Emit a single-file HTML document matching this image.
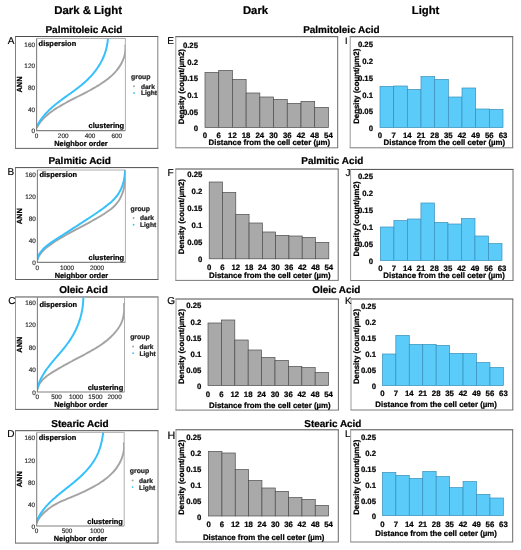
<!DOCTYPE html>
<html><head><meta charset="utf-8"><title>Figure</title>
<style>html,body{margin:0;padding:0;background:#fff;}svg{display:block;text-rendering:geometricPrecision;}</style></head>
<body><svg width="521" height="550" viewBox="0 0 521 550" font-family='"Liberation Sans", sans-serif'>
<text x="88.10" y="14.30" font-size="11.4" text-anchor="middle" font-weight="bold" fill="#000" stroke="#000" stroke-width="0.22" >Dark &amp; Light</text>
<text x="255.50" y="14.30" font-size="11.3" text-anchor="middle" font-weight="bold" fill="#000" stroke="#000" stroke-width="0.22" >Dark</text>
<text x="425.60" y="14.30" font-size="11.3" text-anchor="middle" font-weight="bold" fill="#000" stroke="#000" stroke-width="0.22" >Light</text>
<text x="83.90" y="33.00" font-size="10" text-anchor="middle" font-weight="bold" fill="#000" stroke="#000" stroke-width="0.22" >Palmitoleic Acid</text>
<rect x="15.50" y="36.50" width="142.30" height="111.90" fill="#fff"/>
<line x1="15.05" y1="36.50" x2="158.25" y2="36.50" stroke="#3a3a3a" stroke-width="0.9"/>
<line x1="15.05" y1="148.40" x2="158.25" y2="148.40" stroke="#505050" stroke-width="0.9"/>
<line x1="15.50" y1="36.50" x2="15.50" y2="148.40" stroke="#707070" stroke-width="0.9"/>
<line x1="157.80" y1="36.50" x2="157.80" y2="148.40" stroke="#707070" stroke-width="0.9"/>
<text x="7.70" y="43.70" font-size="10" text-anchor="start" font-weight="normal" fill="#000" stroke="#000" stroke-width="0.18" >A</text>
<clipPath id="cp0"><rect x="36.6" y="38.4" width="88.80000000000001" height="92.19999999999999"/></clipPath>
<path d="M36.66,127.92 C36.84,127.60 37.37,126.62 37.75,125.99 C38.12,125.37 38.52,124.75 38.92,124.16 C39.33,123.56 39.75,122.97 40.19,122.40 C40.62,121.83 41.07,121.27 41.53,120.72 C41.99,120.18 42.46,119.64 42.94,119.12 C43.43,118.60 43.92,118.08 44.43,117.58 C44.94,117.08 45.45,116.59 45.98,116.11 C46.51,115.63 47.04,115.16 47.59,114.70 C48.13,114.24 48.68,113.79 49.25,113.34 C49.81,112.90 50.38,112.47 50.95,112.04 C51.53,111.61 52.11,111.20 52.70,110.79 C53.28,110.37 53.88,109.97 54.48,109.57 C55.08,109.17 55.68,108.78 56.29,108.40 C56.90,108.01 57.51,107.63 58.12,107.26 C58.74,106.88 59.36,106.52 59.98,106.15 C60.60,105.78 61.22,105.42 61.84,105.07 C62.47,104.71 63.09,104.36 63.72,104.01 C64.34,103.66 64.97,103.31 65.60,102.97 C66.23,102.62 66.86,102.28 67.49,101.94 C68.12,101.60 68.76,101.27 69.39,100.93 C70.02,100.60 70.66,100.27 71.29,99.93 C71.93,99.60 72.57,99.27 73.20,98.95 C73.84,98.62 74.48,98.29 75.12,97.96 C75.75,97.64 76.39,97.31 77.03,96.98 C77.67,96.66 78.31,96.33 78.95,96.00 C79.59,95.68 80.23,95.35 80.87,95.02 C81.51,94.69 82.15,94.37 82.79,94.04 C83.43,93.71 84.07,93.38 84.71,93.04 C85.35,92.71 85.99,92.38 86.63,92.04 C87.27,91.70 87.91,91.36 88.55,91.02 C89.19,90.68 89.83,90.34 90.46,89.99 C91.10,89.64 91.74,89.29 92.37,88.94 C93.01,88.58 93.64,88.22 94.28,87.86 C94.91,87.50 95.54,87.14 96.17,86.77 C96.80,86.40 97.43,86.02 98.05,85.64 C98.67,85.26 99.29,84.88 99.91,84.49 C100.52,84.10 101.14,83.70 101.74,83.30 C102.35,82.90 102.95,82.50 103.55,82.08 C104.14,81.67 104.73,81.25 105.32,80.83 C105.90,80.40 106.48,79.97 107.05,79.53 C107.62,79.09 108.18,78.64 108.74,78.19 C109.29,77.73 109.84,77.27 110.38,76.80 C110.92,76.33 111.45,75.86 111.97,75.37 C112.49,74.88 113.00,74.39 113.50,73.89 C114.00,73.38 114.49,72.87 114.97,72.35 C115.45,71.83 115.92,71.30 116.38,70.75 C116.83,70.21 117.28,69.66 117.71,69.10 C118.14,68.54 118.56,67.97 118.97,67.39 C119.37,66.81 119.76,66.23 120.14,65.63 C120.51,65.03 120.87,64.42 121.21,63.80 C121.55,63.18 121.88,62.56 122.18,61.92 C122.49,61.28 122.77,60.63 123.04,59.98 C123.31,59.32 123.56,58.66 123.78,57.98 C124.01,57.31 124.22,56.62 124.40,55.93 C124.58,55.23 124.74,54.53 124.88,53.82 C125.02,53.10 125.13,52.38 125.22,51.65 C125.31,50.92 125.37,50.18 125.41,49.43 C125.45,48.68 125.46,47.92 125.44,47.15 C125.42,46.38 125.33,45.20 125.31,44.81" fill="none" stroke="#a3a3a3" stroke-width="1.9" stroke-linecap="butt" clip-path="url(#cp0)"/>
<path d="M36.66,126.95 C36.81,126.64 37.27,125.70 37.60,125.08 C37.92,124.47 38.26,123.87 38.60,123.28 C38.94,122.68 39.30,122.10 39.66,121.53 C40.03,120.95 40.40,120.39 40.79,119.83 C41.17,119.28 41.56,118.73 41.96,118.19 C42.36,117.65 42.77,117.12 43.19,116.60 C43.61,116.08 44.03,115.56 44.47,115.05 C44.90,114.54 45.34,114.04 45.79,113.55 C46.24,113.06 46.70,112.57 47.16,112.09 C47.62,111.61 48.09,111.13 48.57,110.66 C49.04,110.20 49.52,109.73 50.01,109.28 C50.50,108.82 50.99,108.37 51.49,107.92 C51.99,107.47 52.49,107.03 53.00,106.59 C53.51,106.15 54.02,105.72 54.54,105.29 C55.06,104.86 55.58,104.43 56.10,104.01 C56.63,103.59 57.16,103.17 57.69,102.76 C58.22,102.34 58.76,101.93 59.29,101.52 C59.83,101.11 60.37,100.70 60.92,100.29 C61.46,99.89 62.01,99.48 62.55,99.08 C63.10,98.68 63.65,98.28 64.20,97.88 C64.75,97.48 65.30,97.08 65.86,96.68 C66.41,96.28 66.96,95.89 67.52,95.49 C68.07,95.09 68.62,94.69 69.18,94.30 C69.73,93.90 70.29,93.50 70.84,93.10 C71.39,92.70 71.95,92.30 72.50,91.90 C73.05,91.50 73.60,91.10 74.15,90.69 C74.69,90.29 75.24,89.88 75.79,89.47 C76.33,89.07 76.87,88.66 77.41,88.24 C77.95,87.83 78.49,87.41 79.03,86.99 C79.56,86.57 80.09,86.15 80.62,85.72 C81.15,85.30 81.67,84.87 82.19,84.43 C82.71,84.00 83.22,83.56 83.74,83.12 C84.25,82.67 84.75,82.23 85.25,81.77 C85.76,81.32 86.25,80.86 86.74,80.40 C87.23,79.93 87.72,79.47 88.20,78.99 C88.68,78.52 89.15,78.04 89.62,77.55 C90.09,77.07 90.55,76.58 91.00,76.08 C91.46,75.58 91.91,75.08 92.35,74.57 C92.79,74.07 93.22,73.56 93.65,73.04 C94.08,72.52 94.50,72.00 94.91,71.47 C95.32,70.94 95.73,70.41 96.12,69.87 C96.52,69.33 96.91,68.78 97.29,68.23 C97.67,67.69 98.04,67.13 98.41,66.57 C98.77,66.01 99.13,65.44 99.47,64.87 C99.82,64.30 100.16,63.73 100.48,63.14 C100.81,62.56 101.13,61.98 101.44,61.38 C101.75,60.79 102.05,60.20 102.34,59.59 C102.63,58.99 102.91,58.38 103.18,57.77 C103.45,57.16 103.71,56.54 103.95,55.91 C104.20,55.29 104.44,54.66 104.67,54.03 C104.90,53.39 105.11,52.76 105.32,52.11 C105.52,51.47 105.72,50.82 105.90,50.17 C106.08,49.51 106.25,48.86 106.41,48.19 C106.57,47.53 106.72,46.87 106.86,46.20 C107.00,45.52 107.12,44.85 107.24,44.17 C107.35,43.49 107.45,42.81 107.54,42.12 C107.63,41.43 107.71,40.74 107.77,40.05 C107.84,39.35 107.89,38.65 107.93,37.95 C107.97,37.25 108.00,36.19 108.02,35.84" fill="none" stroke="#36c1fc" stroke-width="2.0" stroke-linecap="butt" clip-path="url(#cp0)"/>
<path d="M36.60,38.40 H125.40 V130.60" fill="none" stroke="#a6a6a6" stroke-width="0.9"/>
<path d="M36.60,38.40 V130.60 H125.40" fill="none" stroke="#828282" stroke-width="1.1"/>
<text x="35.00" y="46.69" font-size="6.4" text-anchor="end" font-weight="normal" fill="#2e2e2e" stroke="#2e2e2e" stroke-width="0.18" >160</text>
<text x="35.00" y="68.29" font-size="6.4" text-anchor="end" font-weight="normal" fill="#2e2e2e" stroke="#2e2e2e" stroke-width="0.18" >120</text>
<text x="35.00" y="89.89" font-size="6.4" text-anchor="end" font-weight="normal" fill="#2e2e2e" stroke="#2e2e2e" stroke-width="0.18" >80</text>
<text x="35.00" y="111.89" font-size="6.4" text-anchor="end" font-weight="normal" fill="#2e2e2e" stroke="#2e2e2e" stroke-width="0.18" >40</text>
<text x="35.00" y="133.29" font-size="6.4" text-anchor="end" font-weight="normal" fill="#2e2e2e" stroke="#2e2e2e" stroke-width="0.18" >0</text>
<text x="36.60" y="137.69" font-size="6.4" text-anchor="middle" font-weight="normal" fill="#2e2e2e" stroke="#2e2e2e" stroke-width="0.18" >0</text>
<text x="63.20" y="137.69" font-size="6.4" text-anchor="middle" font-weight="normal" fill="#2e2e2e" stroke="#2e2e2e" stroke-width="0.18" >200</text>
<text x="90.00" y="137.69" font-size="6.4" text-anchor="middle" font-weight="normal" fill="#2e2e2e" stroke="#2e2e2e" stroke-width="0.18" >400</text>
<text x="116.80" y="137.69" font-size="6.4" text-anchor="middle" font-weight="normal" fill="#2e2e2e" stroke="#2e2e2e" stroke-width="0.18" >600</text>
<text x="81.00" y="146.45" font-size="7.42" text-anchor="middle" font-weight="bold" fill="#000" stroke="#000" stroke-width="0.22" >Neighbor order</text>
<text x="22.00" y="84.50" font-size="7.42" text-anchor="middle" font-weight="bold" fill="#000" stroke="#000" stroke-width="0.22" transform="rotate(-90 22.0 84.5)">ANN</text>
<text x="38.60" y="46.40" font-size="7.45" text-anchor="start" font-weight="bold" fill="#000" stroke="#000" stroke-width="0.22" >dispersion</text>
<text x="124.10" y="128.40" font-size="7.45" text-anchor="end" font-weight="bold" fill="#000" stroke="#000" stroke-width="0.22" >clustering</text>
<text x="131.10" y="79.10" font-size="6.85" text-anchor="start" font-weight="bold" fill="#222" stroke="#222" stroke-width="0.22" >group</text>
<circle cx="134.0" cy="86.30" r="0.95" fill="#a3a3a3"/>
<circle cx="134.0" cy="93.00" r="0.9" fill="#36c1fc"/>
<clipPath id="lc0"><rect x="120" y="36.5" width="37.50" height="111.9"/></clipPath>
<text x="140.90" y="88.70" font-size="6.6" text-anchor="start" font-weight="bold" fill="#222" stroke="#222" stroke-width="0.22" clip-path="url(#lc0)">dark</text>
<text x="140.90" y="95.40" font-size="6.6" text-anchor="start" font-weight="bold" fill="#222" stroke="#222" stroke-width="0.22" clip-path="url(#lc0)">Light</text>
<text x="79.60" y="163.90" font-size="10" text-anchor="middle" font-weight="bold" fill="#000" stroke="#000" stroke-width="0.22" >Palmitic Acid</text>
<rect x="15.50" y="167.60" width="142.50" height="111.90" fill="#fff"/>
<line x1="15.05" y1="167.60" x2="158.45" y2="167.60" stroke="#3a3a3a" stroke-width="0.9"/>
<line x1="15.05" y1="279.50" x2="158.45" y2="279.50" stroke="#505050" stroke-width="0.9"/>
<line x1="15.50" y1="167.60" x2="15.50" y2="279.50" stroke="#707070" stroke-width="0.9"/>
<line x1="158.00" y1="167.60" x2="158.00" y2="279.50" stroke="#707070" stroke-width="0.9"/>
<text x="7.40" y="174.80" font-size="10" text-anchor="start" font-weight="normal" fill="#000" stroke="#000" stroke-width="0.18" >B</text>
<clipPath id="cp1"><rect x="37.4" y="170.0" width="88.0" height="92.39999999999998"/></clipPath>
<path d="M37.26,260.44 C37.37,260.09 37.65,259.03 37.91,258.37 C38.16,257.70 38.47,257.06 38.79,256.43 C39.12,255.81 39.49,255.21 39.88,254.63 C40.27,254.04 40.70,253.48 41.14,252.93 C41.58,252.38 42.05,251.85 42.53,251.33 C43.01,250.81 43.51,250.30 44.02,249.81 C44.53,249.31 45.06,248.83 45.60,248.36 C46.14,247.89 46.70,247.43 47.26,246.97 C47.82,246.52 48.40,246.08 48.98,245.65 C49.56,245.22 50.16,244.79 50.75,244.37 C51.34,243.95 51.95,243.54 52.55,243.14 C53.15,242.73 53.76,242.33 54.37,241.94 C54.97,241.54 55.58,241.15 56.20,240.76 C56.81,240.38 57.42,239.99 58.04,239.62 C58.65,239.24 59.27,238.86 59.88,238.49 C60.50,238.12 61.12,237.76 61.74,237.39 C62.36,237.03 62.99,236.67 63.61,236.31 C64.23,235.96 64.86,235.60 65.48,235.25 C66.11,234.90 66.73,234.55 67.36,234.21 C67.99,233.86 68.62,233.51 69.25,233.17 C69.87,232.83 70.50,232.49 71.13,232.15 C71.77,231.81 72.40,231.47 73.03,231.14 C73.66,230.80 74.29,230.46 74.92,230.13 C75.55,229.79 76.19,229.46 76.82,229.12 C77.45,228.79 78.08,228.46 78.72,228.12 C79.35,227.79 79.98,227.46 80.61,227.12 C81.24,226.79 81.88,226.45 82.51,226.12 C83.14,225.78 83.77,225.45 84.40,225.11 C85.03,224.77 85.66,224.44 86.29,224.10 C86.92,223.76 87.55,223.42 88.18,223.08 C88.81,222.74 89.44,222.39 90.07,222.05 C90.70,221.70 91.33,221.36 91.96,221.01 C92.58,220.66 93.21,220.31 93.84,219.95 C94.46,219.60 95.09,219.24 95.72,218.89 C96.34,218.53 96.97,218.17 97.59,217.80 C98.21,217.44 98.84,217.07 99.46,216.70 C100.08,216.33 100.70,215.96 101.32,215.58 C101.94,215.21 102.56,214.83 103.18,214.44 C103.80,214.06 104.41,213.67 105.03,213.27 C105.64,212.88 106.25,212.48 106.85,212.07 C107.45,211.66 108.04,211.25 108.63,210.83 C109.21,210.40 109.79,209.97 110.36,209.53 C110.93,209.09 111.49,208.64 112.03,208.18 C112.58,207.71 113.11,207.24 113.63,206.75 C114.15,206.27 114.65,205.77 115.14,205.25 C115.63,204.74 116.10,204.22 116.55,203.67 C117.00,203.13 117.44,202.57 117.85,202.00 C118.27,201.43 118.66,200.84 119.04,200.24 C119.42,199.64 119.77,199.02 120.11,198.39 C120.45,197.77 120.77,197.13 121.08,196.48 C121.38,195.83 121.66,195.17 121.93,194.50 C122.20,193.83 122.45,193.16 122.68,192.47 C122.91,191.79 123.13,191.10 123.33,190.40 C123.52,189.70 123.71,189.00 123.87,188.29 C124.04,187.59 124.19,186.88 124.32,186.17 C124.45,185.45 124.57,184.74 124.67,184.02 C124.78,183.31 124.86,182.59 124.93,181.87 C125.01,181.16 125.06,180.44 125.10,179.73 C125.15,179.02 125.17,177.96 125.19,177.60" fill="none" stroke="#a3a3a3" stroke-width="1.9" stroke-linecap="butt" clip-path="url(#cp1)"/>
<path d="M37.19,259.45 C37.29,259.08 37.57,257.95 37.81,257.24 C38.06,256.53 38.36,255.85 38.68,255.19 C39.01,254.52 39.37,253.89 39.77,253.28 C40.16,252.66 40.59,252.07 41.03,251.49 C41.48,250.92 41.96,250.37 42.46,249.83 C42.96,249.29 43.48,248.77 44.02,248.26 C44.55,247.75 45.11,247.25 45.67,246.77 C46.24,246.28 46.82,245.81 47.40,245.35 C47.99,244.88 48.59,244.43 49.19,243.98 C49.80,243.54 50.41,243.10 51.03,242.67 C51.65,242.23 52.28,241.81 52.91,241.39 C53.54,240.97 54.17,240.55 54.81,240.14 C55.44,239.72 56.08,239.31 56.72,238.90 C57.35,238.49 57.99,238.08 58.62,237.67 C59.26,237.26 59.89,236.86 60.52,236.45 C61.16,236.04 61.79,235.64 62.42,235.23 C63.06,234.82 63.69,234.42 64.32,234.01 C64.95,233.61 65.58,233.20 66.21,232.80 C66.84,232.39 67.47,231.99 68.10,231.59 C68.73,231.18 69.36,230.78 69.98,230.38 C70.61,229.97 71.24,229.57 71.87,229.17 C72.49,228.76 73.12,228.36 73.75,227.96 C74.38,227.56 75.00,227.15 75.63,226.75 C76.26,226.35 76.88,225.94 77.51,225.54 C78.13,225.14 78.76,224.73 79.39,224.33 C80.01,223.92 80.64,223.52 81.26,223.12 C81.89,222.71 82.51,222.31 83.14,221.90 C83.76,221.50 84.39,221.09 85.02,220.68 C85.64,220.28 86.27,219.87 86.89,219.46 C87.52,219.05 88.14,218.64 88.76,218.23 C89.39,217.82 90.01,217.41 90.64,217.00 C91.26,216.58 91.88,216.17 92.51,215.75 C93.13,215.33 93.75,214.91 94.37,214.49 C94.99,214.07 95.61,213.65 96.23,213.23 C96.85,212.80 97.47,212.37 98.09,211.95 C98.71,211.52 99.33,211.08 99.95,210.65 C100.56,210.21 101.18,209.78 101.80,209.34 C102.41,208.90 103.03,208.46 103.64,208.01 C104.25,207.56 104.86,207.11 105.47,206.66 C106.07,206.20 106.67,205.74 107.27,205.27 C107.86,204.80 108.45,204.33 109.03,203.85 C109.60,203.37 110.18,202.88 110.74,202.38 C111.30,201.88 111.85,201.38 112.38,200.86 C112.92,200.34 113.45,199.82 113.96,199.28 C114.47,198.74 114.97,198.20 115.45,197.63 C115.93,197.07 116.39,196.50 116.84,195.91 C117.29,195.33 117.72,194.73 118.13,194.11 C118.54,193.50 118.93,192.88 119.30,192.24 C119.67,191.60 120.03,190.95 120.37,190.29 C120.70,189.64 121.02,188.97 121.32,188.29 C121.62,187.61 121.90,186.92 122.16,186.22 C122.43,185.53 122.67,184.82 122.90,184.11 C123.12,183.39 123.33,182.67 123.52,181.95 C123.71,181.22 123.88,180.49 124.03,179.75 C124.18,179.02 124.31,178.27 124.43,177.53 C124.54,176.78 124.63,176.03 124.71,175.28 C124.79,174.52 124.85,173.77 124.89,173.01 C124.93,172.25 124.96,171.49 124.96,170.73 C124.97,169.97 124.94,168.83 124.94,168.46" fill="none" stroke="#36c1fc" stroke-width="2.0" stroke-linecap="butt" clip-path="url(#cp1)"/>
<path d="M37.40,170.00 H125.40 V262.40" fill="none" stroke="#a6a6a6" stroke-width="0.9"/>
<path d="M37.40,170.00 V262.40 H125.40" fill="none" stroke="#828282" stroke-width="1.1"/>
<text x="35.80" y="176.89" font-size="6.4" text-anchor="end" font-weight="normal" fill="#2e2e2e" stroke="#2e2e2e" stroke-width="0.18" >160</text>
<text x="35.80" y="199.29" font-size="6.4" text-anchor="end" font-weight="normal" fill="#2e2e2e" stroke="#2e2e2e" stroke-width="0.18" >120</text>
<text x="35.80" y="221.29" font-size="6.4" text-anchor="end" font-weight="normal" fill="#2e2e2e" stroke="#2e2e2e" stroke-width="0.18" >80</text>
<text x="35.80" y="243.29" font-size="6.4" text-anchor="end" font-weight="normal" fill="#2e2e2e" stroke="#2e2e2e" stroke-width="0.18" >40</text>
<text x="35.80" y="264.89" font-size="6.4" text-anchor="end" font-weight="normal" fill="#2e2e2e" stroke="#2e2e2e" stroke-width="0.18" >0</text>
<text x="37.40" y="269.69" font-size="6.4" text-anchor="middle" font-weight="normal" fill="#2e2e2e" stroke="#2e2e2e" stroke-width="0.18" >0</text>
<text x="67.00" y="269.69" font-size="6.4" text-anchor="middle" font-weight="normal" fill="#2e2e2e" stroke="#2e2e2e" stroke-width="0.18" >1000</text>
<text x="97.00" y="269.69" font-size="6.4" text-anchor="middle" font-weight="normal" fill="#2e2e2e" stroke="#2e2e2e" stroke-width="0.18" >2000</text>
<text x="81.40" y="278.05" font-size="7.42" text-anchor="middle" font-weight="bold" fill="#000" stroke="#000" stroke-width="0.22" >Neighbor order</text>
<text x="22.00" y="216.20" font-size="7.42" text-anchor="middle" font-weight="bold" fill="#000" stroke="#000" stroke-width="0.22" transform="rotate(-90 22.0 216.2)">ANN</text>
<text x="39.40" y="177.00" font-size="7.45" text-anchor="start" font-weight="bold" fill="#000" stroke="#000" stroke-width="0.22" >dispersion</text>
<text x="124.10" y="260.20" font-size="7.45" text-anchor="end" font-weight="bold" fill="#000" stroke="#000" stroke-width="0.22" >clustering</text>
<text x="130.60" y="210.80" font-size="6.85" text-anchor="start" font-weight="bold" fill="#222" stroke="#222" stroke-width="0.22" >group</text>
<circle cx="133.6" cy="218.00" r="0.95" fill="#a3a3a3"/>
<circle cx="133.6" cy="224.70" r="0.9" fill="#36c1fc"/>
<clipPath id="lc1"><rect x="120" y="167.6" width="37.70" height="111.9"/></clipPath>
<text x="140.00" y="220.40" font-size="6.6" text-anchor="start" font-weight="bold" fill="#222" stroke="#222" stroke-width="0.22" clip-path="url(#lc1)">dark</text>
<text x="140.00" y="227.10" font-size="6.6" text-anchor="start" font-weight="bold" fill="#222" stroke="#222" stroke-width="0.22" clip-path="url(#lc1)">Light</text>
<text x="83.50" y="292.60" font-size="10" text-anchor="middle" font-weight="bold" fill="#000" stroke="#000" stroke-width="0.22" >Oleic Acid</text>
<rect x="15.50" y="297.00" width="142.50" height="112.40" fill="#fff"/>
<line x1="15.05" y1="297.00" x2="158.45" y2="297.00" stroke="#9a9a9a" stroke-width="0.9"/>
<line x1="15.05" y1="409.40" x2="158.45" y2="409.40" stroke="#505050" stroke-width="0.9"/>
<line x1="15.50" y1="297.00" x2="15.50" y2="409.40" stroke="#8a8a8a" stroke-width="0.9"/>
<line x1="158.00" y1="297.00" x2="158.00" y2="409.40" stroke="#707070" stroke-width="0.9"/>
<line x1="15.05" y1="296.9" x2="158.45" y2="296.9" stroke="#a2a2a2" stroke-width="1.6"/>
<text x="8.20" y="303.90" font-size="10" text-anchor="start" font-weight="normal" fill="#000" stroke="#000" stroke-width="0.18" >C</text>
<clipPath id="cp2"><rect x="37.4" y="297.2" width="87.1" height="94.80000000000001"/></clipPath>
<path d="M37.28,389.79 C37.38,389.42 37.63,388.28 37.86,387.57 C38.09,386.86 38.37,386.17 38.67,385.51 C38.98,384.85 39.32,384.22 39.70,383.61 C40.07,382.99 40.47,382.41 40.91,381.84 C41.34,381.27 41.80,380.72 42.28,380.19 C42.76,379.66 43.27,379.15 43.80,378.65 C44.33,378.15 44.87,377.67 45.44,377.21 C46.00,376.74 46.58,376.29 47.17,375.85 C47.76,375.40 48.37,374.97 48.98,374.55 C49.59,374.13 50.22,373.72 50.84,373.32 C51.47,372.91 52.10,372.51 52.74,372.12 C53.37,371.72 54.00,371.34 54.64,370.95 C55.27,370.57 55.90,370.18 56.54,369.81 C57.17,369.43 57.81,369.05 58.44,368.68 C59.08,368.31 59.71,367.94 60.35,367.58 C60.98,367.21 61.62,366.85 62.26,366.49 C62.89,366.13 63.53,365.77 64.17,365.42 C64.81,365.06 65.44,364.71 66.08,364.36 C66.72,364.01 67.36,363.66 68.00,363.31 C68.64,362.96 69.28,362.61 69.92,362.27 C70.57,361.92 71.21,361.58 71.85,361.23 C72.49,360.89 73.14,360.55 73.78,360.20 C74.43,359.86 75.07,359.52 75.72,359.18 C76.37,358.84 77.01,358.49 77.66,358.15 C78.31,357.81 78.96,357.47 79.61,357.12 C80.26,356.78 80.91,356.44 81.57,356.09 C82.22,355.75 82.87,355.40 83.52,355.06 C84.18,354.71 84.83,354.36 85.48,354.01 C86.13,353.66 86.79,353.31 87.44,352.95 C88.09,352.59 88.74,352.24 89.39,351.88 C90.03,351.52 90.68,351.15 91.32,350.78 C91.97,350.42 92.61,350.05 93.25,349.67 C93.89,349.30 94.52,348.92 95.16,348.53 C95.79,348.15 96.42,347.76 97.05,347.37 C97.67,346.98 98.29,346.58 98.91,346.17 C99.53,345.77 100.14,345.36 100.75,344.95 C101.36,344.53 101.96,344.11 102.56,343.69 C103.16,343.26 103.75,342.82 104.33,342.38 C104.92,341.94 105.50,341.50 106.07,341.04 C106.65,340.58 107.21,340.12 107.77,339.65 C108.33,339.18 108.88,338.70 109.43,338.22 C109.97,337.73 110.51,337.23 111.04,336.73 C111.56,336.23 112.08,335.71 112.59,335.19 C113.10,334.67 113.61,334.14 114.10,333.59 C114.59,333.05 115.07,332.50 115.54,331.94 C116.01,331.38 116.47,330.81 116.91,330.23 C117.35,329.64 117.78,329.05 118.19,328.45 C118.60,327.85 119.00,327.24 119.37,326.62 C119.75,325.99 120.11,325.36 120.44,324.72 C120.78,324.08 121.09,323.42 121.38,322.76 C121.68,322.10 121.95,321.42 122.19,320.74 C122.43,320.05 122.65,319.35 122.85,318.65 C123.04,317.95 123.21,317.23 123.36,316.51 C123.51,315.79 123.64,315.06 123.75,314.33 C123.85,313.60 123.94,312.86 124.00,312.12 C124.07,311.37 124.11,310.63 124.14,309.88 C124.17,309.13 124.18,308.38 124.17,307.63 C124.16,306.88 124.14,306.13 124.10,305.38 C124.06,304.63 123.96,303.50 123.93,303.13" fill="none" stroke="#a3a3a3" stroke-width="1.9" stroke-linecap="butt" clip-path="url(#cp2)"/>
<path d="M37.15,388.95 C37.23,388.65 37.45,387.76 37.62,387.17 C37.79,386.59 37.96,386.01 38.15,385.43 C38.34,384.86 38.54,384.29 38.74,383.73 C38.95,383.17 39.17,382.61 39.40,382.06 C39.62,381.51 39.86,380.96 40.11,380.42 C40.35,379.88 40.61,379.35 40.87,378.82 C41.13,378.28 41.40,377.76 41.68,377.24 C41.96,376.71 42.24,376.20 42.54,375.68 C42.83,375.17 43.13,374.66 43.44,374.15 C43.74,373.65 44.06,373.15 44.38,372.65 C44.70,372.15 45.03,371.65 45.36,371.16 C45.69,370.67 46.03,370.18 46.37,369.70 C46.71,369.21 47.06,368.73 47.41,368.25 C47.77,367.77 48.12,367.29 48.49,366.81 C48.85,366.34 49.21,365.86 49.58,365.39 C49.95,364.92 50.32,364.45 50.70,363.98 C51.08,363.52 51.46,363.05 51.84,362.58 C52.22,362.12 52.60,361.66 52.99,361.19 C53.37,360.73 53.76,360.27 54.15,359.81 C54.54,359.35 54.93,358.89 55.33,358.43 C55.72,357.97 56.11,357.51 56.51,357.05 C56.90,356.59 57.29,356.14 57.69,355.68 C58.08,355.22 58.48,354.76 58.87,354.30 C59.26,353.84 59.66,353.38 60.05,352.92 C60.44,352.46 60.83,352.00 61.22,351.54 C61.61,351.07 62.00,350.61 62.39,350.14 C62.77,349.68 63.16,349.21 63.54,348.75 C63.92,348.28 64.30,347.81 64.67,347.34 C65.05,346.86 65.42,346.39 65.79,345.92 C66.16,345.44 66.52,344.96 66.88,344.48 C67.24,344.00 67.60,343.52 67.95,343.03 C68.30,342.54 68.65,342.06 68.99,341.56 C69.34,341.07 69.67,340.58 70.00,340.08 C70.33,339.58 70.66,339.08 70.98,338.57 C71.30,338.07 71.61,337.56 71.92,337.05 C72.23,336.53 72.53,336.02 72.83,335.50 C73.13,334.98 73.42,334.46 73.71,333.94 C73.99,333.41 74.27,332.89 74.55,332.36 C74.82,331.83 75.09,331.29 75.35,330.76 C75.61,330.22 75.87,329.68 76.12,329.14 C76.37,328.60 76.61,328.06 76.85,327.51 C77.09,326.96 77.32,326.41 77.54,325.86 C77.77,325.31 77.99,324.75 78.20,324.20 C78.41,323.64 78.62,323.08 78.82,322.52 C79.02,321.96 79.22,321.39 79.40,320.83 C79.59,320.26 79.77,319.69 79.95,319.12 C80.12,318.55 80.29,317.98 80.45,317.40 C80.62,316.83 80.77,316.25 80.92,315.67 C81.07,315.09 81.21,314.51 81.35,313.93 C81.48,313.34 81.61,312.76 81.73,312.17 C81.86,311.58 81.97,310.99 82.08,310.40 C82.19,309.81 82.29,309.22 82.39,308.62 C82.48,308.03 82.57,307.43 82.65,306.84 C82.73,306.24 82.81,305.64 82.87,305.04 C82.94,304.44 83.00,303.84 83.06,303.23 C83.11,302.63 83.15,302.02 83.19,301.42 C83.23,300.81 83.26,300.20 83.29,299.59 C83.31,298.99 83.33,298.38 83.34,297.76 C83.35,297.15 83.35,296.23 83.35,295.93" fill="none" stroke="#36c1fc" stroke-width="2.0" stroke-linecap="butt" clip-path="url(#cp2)"/>
<path d="M37.40,297.20 H124.50 V392.00" fill="none" stroke="#a6a6a6" stroke-width="0.9"/>
<path d="M37.40,297.20 V392.00 H124.50" fill="none" stroke="#828282" stroke-width="1.1"/>
<text x="35.80" y="304.99" font-size="6.4" text-anchor="end" font-weight="normal" fill="#2e2e2e" stroke="#2e2e2e" stroke-width="0.18" >160</text>
<text x="35.80" y="327.49" font-size="6.4" text-anchor="end" font-weight="normal" fill="#2e2e2e" stroke="#2e2e2e" stroke-width="0.18" >120</text>
<text x="35.80" y="349.69" font-size="6.4" text-anchor="end" font-weight="normal" fill="#2e2e2e" stroke="#2e2e2e" stroke-width="0.18" >80</text>
<text x="35.80" y="371.89" font-size="6.4" text-anchor="end" font-weight="normal" fill="#2e2e2e" stroke="#2e2e2e" stroke-width="0.18" >40</text>
<text x="35.80" y="394.79" font-size="6.4" text-anchor="end" font-weight="normal" fill="#2e2e2e" stroke="#2e2e2e" stroke-width="0.18" >0</text>
<text x="37.40" y="399.29" font-size="6.4" text-anchor="middle" font-weight="normal" fill="#2e2e2e" stroke="#2e2e2e" stroke-width="0.18" >0</text>
<text x="56.60" y="399.29" font-size="6.4" text-anchor="middle" font-weight="normal" fill="#2e2e2e" stroke="#2e2e2e" stroke-width="0.18" >500</text>
<text x="76.00" y="399.29" font-size="6.4" text-anchor="middle" font-weight="normal" fill="#2e2e2e" stroke="#2e2e2e" stroke-width="0.18" >1000</text>
<text x="95.40" y="399.29" font-size="6.4" text-anchor="middle" font-weight="normal" fill="#2e2e2e" stroke="#2e2e2e" stroke-width="0.18" >1500</text>
<text x="114.60" y="399.29" font-size="6.4" text-anchor="middle" font-weight="normal" fill="#2e2e2e" stroke="#2e2e2e" stroke-width="0.18" >2000</text>
<text x="80.95" y="406.95" font-size="7.42" text-anchor="middle" font-weight="bold" fill="#000" stroke="#000" stroke-width="0.22" >Neighbor order</text>
<text x="22.00" y="344.60" font-size="7.42" text-anchor="middle" font-weight="bold" fill="#000" stroke="#000" stroke-width="0.22" transform="rotate(-90 22.0 344.6)">ANN</text>
<text x="39.40" y="306.90" font-size="7.45" text-anchor="start" font-weight="bold" fill="#000" stroke="#000" stroke-width="0.22" >dispersion</text>
<text x="123.20" y="389.80" font-size="7.45" text-anchor="end" font-weight="bold" fill="#000" stroke="#000" stroke-width="0.22" >clustering</text>
<text x="130.20" y="339.30" font-size="6.85" text-anchor="start" font-weight="bold" fill="#222" stroke="#222" stroke-width="0.22" >group</text>
<circle cx="133.1" cy="346.50" r="0.95" fill="#a3a3a3"/>
<circle cx="133.1" cy="353.20" r="0.9" fill="#36c1fc"/>
<clipPath id="lc2"><rect x="120" y="297.0" width="37.70" height="112.39999999999998"/></clipPath>
<text x="139.50" y="348.90" font-size="6.6" text-anchor="start" font-weight="bold" fill="#222" stroke="#222" stroke-width="0.22" clip-path="url(#lc2)">dark</text>
<text x="139.50" y="355.60" font-size="6.6" text-anchor="start" font-weight="bold" fill="#222" stroke="#222" stroke-width="0.22" clip-path="url(#lc2)">Light</text>
<text x="80.00" y="426.70" font-size="10" text-anchor="middle" font-weight="bold" fill="#000" stroke="#000" stroke-width="0.22" >Stearic Acid</text>
<rect x="15.50" y="430.70" width="142.50" height="112.40" fill="#fff"/>
<line x1="15.05" y1="430.70" x2="158.45" y2="430.70" stroke="#3a3a3a" stroke-width="0.9"/>
<line x1="15.05" y1="543.10" x2="158.45" y2="543.10" stroke="#505050" stroke-width="0.9"/>
<line x1="15.50" y1="430.70" x2="15.50" y2="543.10" stroke="#707070" stroke-width="0.9"/>
<line x1="158.00" y1="430.70" x2="158.00" y2="543.10" stroke="#707070" stroke-width="0.9"/>
<text x="7.30" y="436.80" font-size="10" text-anchor="start" font-weight="normal" fill="#000" stroke="#000" stroke-width="0.18" >D</text>
<clipPath id="cp3"><rect x="36.7" y="432.4" width="87.5" height="93.60000000000002"/></clipPath>
<path d="M36.65,523.41 C36.77,523.08 37.11,522.08 37.39,521.45 C37.67,520.81 37.99,520.19 38.34,519.59 C38.69,518.98 39.07,518.40 39.47,517.82 C39.88,517.25 40.31,516.69 40.76,516.14 C41.21,515.59 41.68,515.06 42.17,514.53 C42.66,514.01 43.17,513.50 43.69,513.00 C44.21,512.50 44.74,512.02 45.28,511.54 C45.82,511.06 46.37,510.59 46.92,510.14 C47.48,509.68 48.04,509.24 48.61,508.80 C49.18,508.36 49.76,507.94 50.34,507.52 C50.93,507.11 51.52,506.71 52.12,506.31 C52.72,505.92 53.32,505.54 53.94,505.17 C54.55,504.80 55.16,504.44 55.79,504.09 C56.41,503.74 57.04,503.40 57.68,503.08 C58.31,502.75 58.96,502.44 59.60,502.13 C60.25,501.82 60.90,501.52 61.55,501.23 C62.20,500.94 62.86,500.66 63.52,500.38 C64.17,500.10 64.83,499.82 65.49,499.55 C66.15,499.28 66.82,499.01 67.48,498.74 C68.14,498.47 68.80,498.20 69.46,497.93 C70.12,497.66 70.78,497.39 71.43,497.12 C72.09,496.84 72.74,496.57 73.40,496.29 C74.05,496.02 74.70,495.74 75.35,495.46 C76.01,495.18 76.66,494.90 77.30,494.61 C77.95,494.33 78.60,494.04 79.25,493.75 C79.90,493.46 80.54,493.17 81.19,492.87 C81.84,492.58 82.48,492.28 83.13,491.98 C83.77,491.68 84.42,491.37 85.06,491.07 C85.71,490.76 86.35,490.45 86.99,490.13 C87.64,489.81 88.28,489.49 88.92,489.17 C89.56,488.85 90.21,488.52 90.84,488.19 C91.48,487.85 92.12,487.52 92.75,487.17 C93.39,486.83 94.02,486.48 94.65,486.13 C95.28,485.78 95.90,485.42 96.52,485.05 C97.14,484.69 97.76,484.32 98.37,483.94 C98.99,483.56 99.59,483.18 100.20,482.79 C100.80,482.40 101.40,482.00 101.99,481.59 C102.58,481.19 103.16,480.78 103.74,480.36 C104.32,479.94 104.89,479.51 105.46,479.08 C106.02,478.64 106.58,478.20 107.13,477.74 C107.68,477.29 108.22,476.83 108.75,476.36 C109.28,475.89 109.81,475.41 110.32,474.92 C110.84,474.44 111.34,473.94 111.84,473.43 C112.33,472.92 112.82,472.41 113.29,471.88 C113.77,471.35 114.23,470.81 114.68,470.27 C115.14,469.72 115.58,469.16 116.01,468.59 C116.44,468.02 116.85,467.44 117.26,466.85 C117.66,466.25 118.05,465.65 118.42,465.04 C118.80,464.43 119.16,463.81 119.50,463.19 C119.85,462.56 120.17,461.92 120.49,461.28 C120.80,460.63 121.09,459.98 121.36,459.32 C121.64,458.66 121.90,458.00 122.13,457.32 C122.37,456.65 122.59,455.97 122.78,455.29 C122.98,454.60 123.16,453.91 123.31,453.21 C123.46,452.52 123.59,451.81 123.70,451.11 C123.81,450.40 123.89,449.69 123.95,448.98 C124.01,448.26 124.05,447.55 124.05,446.82 C124.06,446.10 124.05,445.38 124.00,444.65 C123.96,443.93 123.82,442.83 123.79,442.47" fill="none" stroke="#a3a3a3" stroke-width="1.9" stroke-linecap="butt" clip-path="url(#cp3)"/>
<path d="M36.66,521.97 C36.78,521.66 37.12,520.71 37.37,520.09 C37.62,519.47 37.89,518.86 38.16,518.26 C38.44,517.66 38.74,517.07 39.04,516.49 C39.35,515.91 39.67,515.33 40.00,514.76 C40.33,514.20 40.67,513.64 41.03,513.09 C41.38,512.54 41.75,511.99 42.12,511.46 C42.50,510.92 42.88,510.39 43.28,509.87 C43.67,509.35 44.08,508.83 44.49,508.33 C44.91,507.82 45.33,507.31 45.76,506.82 C46.19,506.32 46.63,505.83 47.07,505.35 C47.52,504.86 47.97,504.38 48.43,503.91 C48.88,503.43 49.35,502.97 49.82,502.50 C50.29,502.04 50.76,501.58 51.24,501.12 C51.72,500.67 52.20,500.22 52.69,499.77 C53.18,499.33 53.67,498.89 54.16,498.45 C54.65,498.01 55.15,497.57 55.65,497.14 C56.15,496.71 56.65,496.28 57.15,495.86 C57.65,495.43 58.16,495.01 58.67,494.59 C59.18,494.16 59.69,493.75 60.20,493.33 C60.71,492.91 61.22,492.50 61.74,492.08 C62.25,491.67 62.76,491.25 63.28,490.84 C63.80,490.43 64.31,490.02 64.83,489.61 C65.35,489.20 65.86,488.79 66.38,488.38 C66.90,487.97 67.42,487.55 67.93,487.14 C68.45,486.73 68.97,486.32 69.48,485.91 C70.00,485.49 70.52,485.08 71.03,484.66 C71.54,484.25 72.06,483.83 72.57,483.41 C73.08,482.99 73.59,482.57 74.10,482.15 C74.61,481.72 75.12,481.30 75.62,480.87 C76.13,480.44 76.63,480.01 77.13,479.57 C77.63,479.14 78.13,478.70 78.62,478.26 C79.12,477.82 79.61,477.37 80.10,476.92 C80.58,476.47 81.07,476.02 81.55,475.56 C82.03,475.11 82.50,474.65 82.98,474.18 C83.45,473.72 83.91,473.25 84.37,472.78 C84.83,472.31 85.29,471.83 85.74,471.35 C86.19,470.87 86.64,470.38 87.07,469.89 C87.51,469.40 87.94,468.91 88.37,468.41 C88.79,467.91 89.21,467.40 89.62,466.89 C90.04,466.38 90.44,465.87 90.84,465.35 C91.23,464.83 91.62,464.30 92.00,463.77 C92.38,463.24 92.75,462.71 93.12,462.16 C93.48,461.62 93.83,461.08 94.18,460.52 C94.52,459.97 94.86,459.41 95.18,458.84 C95.51,458.28 95.83,457.71 96.13,457.13 C96.44,456.55 96.73,455.97 97.02,455.38 C97.30,454.79 97.57,454.19 97.84,453.59 C98.10,452.99 98.35,452.38 98.59,451.76 C98.84,451.15 99.07,450.53 99.29,449.91 C99.52,449.28 99.73,448.66 99.93,448.03 C100.14,447.39 100.33,446.76 100.51,446.12 C100.70,445.48 100.87,444.84 101.04,444.19 C101.21,443.55 101.37,442.90 101.52,442.25 C101.67,441.60 101.81,440.95 101.94,440.30 C102.07,439.65 102.20,438.99 102.32,438.34 C102.43,437.68 102.54,437.02 102.64,436.37 C102.75,435.71 102.84,435.05 102.93,434.40 C103.01,433.74 103.09,433.09 103.17,432.43 C103.24,431.78 103.33,430.80 103.37,430.47" fill="none" stroke="#36c1fc" stroke-width="2.0" stroke-linecap="butt" clip-path="url(#cp3)"/>
<path d="M36.70,432.40 H124.20 V526.00" fill="none" stroke="#a6a6a6" stroke-width="0.9"/>
<path d="M36.70,432.40 V526.00 H124.20" fill="none" stroke="#828282" stroke-width="1.1"/>
<text x="35.10" y="440.29" font-size="6.4" text-anchor="end" font-weight="normal" fill="#2e2e2e" stroke="#2e2e2e" stroke-width="0.18" >160</text>
<text x="35.10" y="462.89" font-size="6.4" text-anchor="end" font-weight="normal" fill="#2e2e2e" stroke="#2e2e2e" stroke-width="0.18" >120</text>
<text x="35.10" y="484.89" font-size="6.4" text-anchor="end" font-weight="normal" fill="#2e2e2e" stroke="#2e2e2e" stroke-width="0.18" >80</text>
<text x="35.10" y="506.89" font-size="6.4" text-anchor="end" font-weight="normal" fill="#2e2e2e" stroke="#2e2e2e" stroke-width="0.18" >40</text>
<text x="35.10" y="528.89" font-size="6.4" text-anchor="end" font-weight="normal" fill="#2e2e2e" stroke="#2e2e2e" stroke-width="0.18" >0</text>
<text x="36.60" y="533.29" font-size="6.4" text-anchor="middle" font-weight="normal" fill="#2e2e2e" stroke="#2e2e2e" stroke-width="0.18" >0</text>
<text x="67.00" y="533.29" font-size="6.4" text-anchor="middle" font-weight="normal" fill="#2e2e2e" stroke="#2e2e2e" stroke-width="0.18" >500</text>
<text x="97.00" y="533.29" font-size="6.4" text-anchor="middle" font-weight="normal" fill="#2e2e2e" stroke="#2e2e2e" stroke-width="0.18" >1000</text>
<text x="80.45" y="540.55" font-size="7.42" text-anchor="middle" font-weight="bold" fill="#000" stroke="#000" stroke-width="0.22" >Neighbor order</text>
<text x="22.00" y="479.20" font-size="7.42" text-anchor="middle" font-weight="bold" fill="#000" stroke="#000" stroke-width="0.22" transform="rotate(-90 22.0 479.2)">ANN</text>
<text x="38.70" y="440.00" font-size="7.45" text-anchor="start" font-weight="bold" fill="#000" stroke="#000" stroke-width="0.22" >dispersion</text>
<text x="122.90" y="523.80" font-size="7.45" text-anchor="end" font-weight="bold" fill="#000" stroke="#000" stroke-width="0.22" >clustering</text>
<text x="129.80" y="473.20" font-size="6.85" text-anchor="start" font-weight="bold" fill="#222" stroke="#222" stroke-width="0.22" >group</text>
<circle cx="132.6" cy="480.40" r="0.95" fill="#a3a3a3"/>
<circle cx="132.6" cy="487.10" r="0.9" fill="#36c1fc"/>
<clipPath id="lc3"><rect x="120" y="430.7" width="37.70" height="112.40000000000003"/></clipPath>
<text x="139.00" y="482.80" font-size="6.6" text-anchor="start" font-weight="bold" fill="#222" stroke="#222" stroke-width="0.22" clip-path="url(#lc3)">dark</text>
<text x="139.00" y="489.50" font-size="6.6" text-anchor="start" font-weight="bold" fill="#222" stroke="#222" stroke-width="0.22" clip-path="url(#lc3)">Light</text>
<rect x="175.80" y="36.70" width="161.90" height="111.10" fill="#fff"/>
<line x1="175.30" y1="36.70" x2="338.20" y2="36.70" stroke="#4a4a4a" stroke-width="1.0"/>
<line x1="175.30" y1="147.80" x2="338.20" y2="147.80" stroke="#7a7a7a" stroke-width="1.0"/>
<line x1="175.80" y1="36.70" x2="175.80" y2="147.80" stroke="#9a9a9a" stroke-width="1.0"/>
<line x1="337.70" y1="36.70" x2="337.70" y2="147.80" stroke="#6a6a6a" stroke-width="1.0"/>
<text x="167.30" y="43.70" font-size="10" text-anchor="start" font-weight="normal" fill="#000" stroke="#000" stroke-width="0.18" >E</text>
<rect x="205.00" y="72.40" width="13.71" height="55.20" fill="#a9a9a9" stroke="#4d4d4d" stroke-width="0.7" />
<rect x="218.71" y="70.40" width="13.71" height="57.20" fill="#a9a9a9" stroke="#4d4d4d" stroke-width="0.7" />
<rect x="232.42" y="79.40" width="13.71" height="48.20" fill="#a9a9a9" stroke="#4d4d4d" stroke-width="0.7" />
<rect x="246.13" y="93.00" width="13.71" height="34.60" fill="#a9a9a9" stroke="#4d4d4d" stroke-width="0.7" />
<rect x="259.84" y="97.00" width="13.71" height="30.60" fill="#a9a9a9" stroke="#4d4d4d" stroke-width="0.7" />
<rect x="273.56" y="99.40" width="13.71" height="28.20" fill="#a9a9a9" stroke="#4d4d4d" stroke-width="0.7" />
<rect x="287.27" y="103.40" width="13.71" height="24.20" fill="#a9a9a9" stroke="#4d4d4d" stroke-width="0.7" />
<rect x="300.98" y="101.40" width="13.71" height="26.20" fill="#a9a9a9" stroke="#4d4d4d" stroke-width="0.7" />
<rect x="314.69" y="107.40" width="13.71" height="20.20" fill="#a9a9a9" stroke="#4d4d4d" stroke-width="0.7" />
<text x="198.00" y="48.19" font-size="7.75" text-anchor="end" font-weight="bold" fill="#000" stroke="#000" stroke-width="0.22" >0.25</text>
<text x="198.00" y="64.79" font-size="7.75" text-anchor="end" font-weight="bold" fill="#000" stroke="#000" stroke-width="0.22" >0.2</text>
<text x="198.00" y="81.39" font-size="7.75" text-anchor="end" font-weight="bold" fill="#000" stroke="#000" stroke-width="0.22" >0.15</text>
<text x="198.00" y="98.19" font-size="7.75" text-anchor="end" font-weight="bold" fill="#000" stroke="#000" stroke-width="0.22" >0.1</text>
<text x="198.00" y="114.79" font-size="7.75" text-anchor="end" font-weight="bold" fill="#000" stroke="#000" stroke-width="0.22" >0.05</text>
<text x="198.00" y="131.19" font-size="7.75" text-anchor="end" font-weight="bold" fill="#000" stroke="#000" stroke-width="0.22" >0</text>
<text x="205.00" y="137.99" font-size="7.8" text-anchor="middle" font-weight="bold" fill="#000" stroke="#000" stroke-width="0.22" >0</text>
<text x="218.71" y="137.99" font-size="7.8" text-anchor="middle" font-weight="bold" fill="#000" stroke="#000" stroke-width="0.22" >6</text>
<text x="232.42" y="137.99" font-size="7.8" text-anchor="middle" font-weight="bold" fill="#000" stroke="#000" stroke-width="0.22" >12</text>
<text x="246.13" y="137.99" font-size="7.8" text-anchor="middle" font-weight="bold" fill="#000" stroke="#000" stroke-width="0.22" >18</text>
<text x="259.84" y="137.99" font-size="7.8" text-anchor="middle" font-weight="bold" fill="#000" stroke="#000" stroke-width="0.22" >24</text>
<text x="273.56" y="137.99" font-size="7.8" text-anchor="middle" font-weight="bold" fill="#000" stroke="#000" stroke-width="0.22" >30</text>
<text x="287.27" y="137.99" font-size="7.8" text-anchor="middle" font-weight="bold" fill="#000" stroke="#000" stroke-width="0.22" >36</text>
<text x="300.98" y="137.99" font-size="7.8" text-anchor="middle" font-weight="bold" fill="#000" stroke="#000" stroke-width="0.22" >42</text>
<text x="314.69" y="137.99" font-size="7.8" text-anchor="middle" font-weight="bold" fill="#000" stroke="#000" stroke-width="0.22" >48</text>
<text x="328.40" y="137.99" font-size="7.8" text-anchor="middle" font-weight="bold" fill="#000" stroke="#000" stroke-width="0.22" >54</text>
<text x="269.40" y="145.43" font-size="7.87" text-anchor="middle" font-weight="bold" fill="#000" stroke="#000" stroke-width="0.22" >Distance from the cell ceter (µm)</text>
<text x="182.00" y="86.70" font-size="7.85" text-anchor="middle" font-weight="bold" fill="#000" stroke="#000" stroke-width="0.22" transform="rotate(-90 182.0 86.7)" dy="2.0">Density (count/µm2)</text>
<rect x="350.20" y="36.70" width="162.50" height="111.10" fill="#fff"/>
<line x1="349.70" y1="36.70" x2="513.20" y2="36.70" stroke="#4a4a4a" stroke-width="1.0"/>
<line x1="349.70" y1="147.80" x2="513.20" y2="147.80" stroke="#7a7a7a" stroke-width="1.0"/>
<line x1="350.20" y1="36.70" x2="350.20" y2="147.80" stroke="#9a9a9a" stroke-width="1.0"/>
<line x1="512.70" y1="36.70" x2="512.70" y2="147.80" stroke="#6a6a6a" stroke-width="1.0"/>
<text x="345.00" y="43.50" font-size="9.2" text-anchor="start" font-weight="normal" fill="#000" stroke="#000" stroke-width="0.18" >I</text>
<rect x="380.00" y="86.40" width="13.67" height="41.20" fill="#5bccfa" stroke="#3a8fb8" stroke-width="0.7" />
<rect x="393.67" y="86.00" width="13.67" height="41.60" fill="#5bccfa" stroke="#3a8fb8" stroke-width="0.7" />
<rect x="407.33" y="89.40" width="13.67" height="38.20" fill="#5bccfa" stroke="#3a8fb8" stroke-width="0.7" />
<rect x="421.00" y="76.60" width="13.67" height="51.00" fill="#5bccfa" stroke="#3a8fb8" stroke-width="0.7" />
<rect x="434.67" y="79.40" width="13.67" height="48.20" fill="#5bccfa" stroke="#3a8fb8" stroke-width="0.7" />
<rect x="448.33" y="97.00" width="13.67" height="30.60" fill="#5bccfa" stroke="#3a8fb8" stroke-width="0.7" />
<rect x="462.00" y="88.00" width="13.67" height="39.60" fill="#5bccfa" stroke="#3a8fb8" stroke-width="0.7" />
<rect x="475.67" y="109.00" width="13.67" height="18.60" fill="#5bccfa" stroke="#3a8fb8" stroke-width="0.7" />
<rect x="489.33" y="109.40" width="13.67" height="18.20" fill="#5bccfa" stroke="#3a8fb8" stroke-width="0.7" />
<text x="373.00" y="47.39" font-size="7.75" text-anchor="end" font-weight="bold" fill="#000" stroke="#000" stroke-width="0.22" >0.25</text>
<text x="373.00" y="64.19" font-size="7.75" text-anchor="end" font-weight="bold" fill="#000" stroke="#000" stroke-width="0.22" >0.2</text>
<text x="373.00" y="80.99" font-size="7.75" text-anchor="end" font-weight="bold" fill="#000" stroke="#000" stroke-width="0.22" >0.15</text>
<text x="373.00" y="97.79" font-size="7.75" text-anchor="end" font-weight="bold" fill="#000" stroke="#000" stroke-width="0.22" >0.1</text>
<text x="373.00" y="114.39" font-size="7.75" text-anchor="end" font-weight="bold" fill="#000" stroke="#000" stroke-width="0.22" >0.05</text>
<text x="373.00" y="131.19" font-size="7.75" text-anchor="end" font-weight="bold" fill="#000" stroke="#000" stroke-width="0.22" >0</text>
<text x="380.00" y="137.99" font-size="7.8" text-anchor="middle" font-weight="bold" fill="#000" stroke="#000" stroke-width="0.22" >0</text>
<text x="393.67" y="137.99" font-size="7.8" text-anchor="middle" font-weight="bold" fill="#000" stroke="#000" stroke-width="0.22" >7</text>
<text x="407.33" y="137.99" font-size="7.8" text-anchor="middle" font-weight="bold" fill="#000" stroke="#000" stroke-width="0.22" >14</text>
<text x="421.00" y="137.99" font-size="7.8" text-anchor="middle" font-weight="bold" fill="#000" stroke="#000" stroke-width="0.22" >21</text>
<text x="434.67" y="137.99" font-size="7.8" text-anchor="middle" font-weight="bold" fill="#000" stroke="#000" stroke-width="0.22" >28</text>
<text x="448.33" y="137.99" font-size="7.8" text-anchor="middle" font-weight="bold" fill="#000" stroke="#000" stroke-width="0.22" >35</text>
<text x="462.00" y="137.99" font-size="7.8" text-anchor="middle" font-weight="bold" fill="#000" stroke="#000" stroke-width="0.22" >42</text>
<text x="475.67" y="137.99" font-size="7.8" text-anchor="middle" font-weight="bold" fill="#000" stroke="#000" stroke-width="0.22" >49</text>
<text x="489.33" y="137.99" font-size="7.8" text-anchor="middle" font-weight="bold" fill="#000" stroke="#000" stroke-width="0.22" >56</text>
<text x="503.00" y="137.99" font-size="7.8" text-anchor="middle" font-weight="bold" fill="#000" stroke="#000" stroke-width="0.22" >63</text>
<text x="444.40" y="145.43" font-size="7.87" text-anchor="middle" font-weight="bold" fill="#000" stroke="#000" stroke-width="0.22" >Distance from the cell ceter (µm)</text>
<text x="357.00" y="86.30" font-size="7.85" text-anchor="middle" font-weight="bold" fill="#000" stroke="#000" stroke-width="0.22" transform="rotate(-90 357.0 86.3)" dy="2.0">Density (count/µm2)</text>
<rect x="175.80" y="169.00" width="162.40" height="111.40" fill="#fff"/>
<line x1="175.30" y1="169.00" x2="338.70" y2="169.00" stroke="#4a4a4a" stroke-width="1.0"/>
<line x1="175.30" y1="280.40" x2="338.70" y2="280.40" stroke="#7a7a7a" stroke-width="1.0"/>
<line x1="175.80" y1="169.00" x2="175.80" y2="280.40" stroke="#9a9a9a" stroke-width="1.0"/>
<line x1="338.20" y1="169.00" x2="338.20" y2="280.40" stroke="#6a6a6a" stroke-width="1.0"/>
<text x="167.40" y="175.60" font-size="10" text-anchor="start" font-weight="normal" fill="#000" stroke="#000" stroke-width="0.18" >F</text>
<rect x="209.20" y="182.00" width="13.29" height="76.80" fill="#a9a9a9" stroke="#4d4d4d" stroke-width="0.7" />
<rect x="222.49" y="192.40" width="13.29" height="66.40" fill="#a9a9a9" stroke="#4d4d4d" stroke-width="0.7" />
<rect x="235.78" y="214.40" width="13.29" height="44.40" fill="#a9a9a9" stroke="#4d4d4d" stroke-width="0.7" />
<rect x="249.07" y="223.00" width="13.29" height="35.80" fill="#a9a9a9" stroke="#4d4d4d" stroke-width="0.7" />
<rect x="262.36" y="232.00" width="13.29" height="26.80" fill="#a9a9a9" stroke="#4d4d4d" stroke-width="0.7" />
<rect x="275.64" y="235.40" width="13.29" height="23.40" fill="#a9a9a9" stroke="#4d4d4d" stroke-width="0.7" />
<rect x="288.93" y="236.00" width="13.29" height="22.80" fill="#a9a9a9" stroke="#4d4d4d" stroke-width="0.7" />
<rect x="302.22" y="237.40" width="13.29" height="21.40" fill="#a9a9a9" stroke="#4d4d4d" stroke-width="0.7" />
<rect x="315.51" y="242.40" width="13.29" height="16.40" fill="#a9a9a9" stroke="#4d4d4d" stroke-width="0.7" />
<text x="202.40" y="176.79" font-size="7.75" text-anchor="end" font-weight="bold" fill="#000" stroke="#000" stroke-width="0.22" >0.25</text>
<text x="202.40" y="193.79" font-size="7.75" text-anchor="end" font-weight="bold" fill="#000" stroke="#000" stroke-width="0.22" >0.2</text>
<text x="202.40" y="211.19" font-size="7.75" text-anchor="end" font-weight="bold" fill="#000" stroke="#000" stroke-width="0.22" >0.15</text>
<text x="202.40" y="228.39" font-size="7.75" text-anchor="end" font-weight="bold" fill="#000" stroke="#000" stroke-width="0.22" >0.1</text>
<text x="202.40" y="245.39" font-size="7.75" text-anchor="end" font-weight="bold" fill="#000" stroke="#000" stroke-width="0.22" >0.05</text>
<text x="202.40" y="262.39" font-size="7.75" text-anchor="end" font-weight="bold" fill="#000" stroke="#000" stroke-width="0.22" >0</text>
<text x="209.20" y="270.09" font-size="7.8" text-anchor="middle" font-weight="bold" fill="#000" stroke="#000" stroke-width="0.22" >0</text>
<text x="222.49" y="270.09" font-size="7.8" text-anchor="middle" font-weight="bold" fill="#000" stroke="#000" stroke-width="0.22" >6</text>
<text x="235.78" y="270.09" font-size="7.8" text-anchor="middle" font-weight="bold" fill="#000" stroke="#000" stroke-width="0.22" >12</text>
<text x="249.07" y="270.09" font-size="7.8" text-anchor="middle" font-weight="bold" fill="#000" stroke="#000" stroke-width="0.22" >18</text>
<text x="262.36" y="270.09" font-size="7.8" text-anchor="middle" font-weight="bold" fill="#000" stroke="#000" stroke-width="0.22" >24</text>
<text x="275.64" y="270.09" font-size="7.8" text-anchor="middle" font-weight="bold" fill="#000" stroke="#000" stroke-width="0.22" >30</text>
<text x="288.93" y="270.09" font-size="7.8" text-anchor="middle" font-weight="bold" fill="#000" stroke="#000" stroke-width="0.22" >36</text>
<text x="302.22" y="270.09" font-size="7.8" text-anchor="middle" font-weight="bold" fill="#000" stroke="#000" stroke-width="0.22" >42</text>
<text x="315.51" y="270.09" font-size="7.8" text-anchor="middle" font-weight="bold" fill="#000" stroke="#000" stroke-width="0.22" >48</text>
<text x="328.80" y="270.09" font-size="7.8" text-anchor="middle" font-weight="bold" fill="#000" stroke="#000" stroke-width="0.22" >54</text>
<text x="269.90" y="278.13" font-size="7.87" text-anchor="middle" font-weight="bold" fill="#000" stroke="#000" stroke-width="0.22" >Distance from the cell ceter (µm)</text>
<text x="182.00" y="216.70" font-size="7.85" text-anchor="middle" font-weight="bold" fill="#000" stroke="#000" stroke-width="0.22" transform="rotate(-90 182.0 216.7)" dy="2.0">Density (count/µm2)</text>
<rect x="350.60" y="169.40" width="162.40" height="111.10" fill="#fff"/>
<line x1="350.10" y1="169.40" x2="513.50" y2="169.40" stroke="#4a4a4a" stroke-width="1.0"/>
<line x1="350.10" y1="280.50" x2="513.50" y2="280.50" stroke="#7a7a7a" stroke-width="1.0"/>
<line x1="350.60" y1="169.40" x2="350.60" y2="280.50" stroke="#9a9a9a" stroke-width="1.0"/>
<line x1="513.00" y1="169.40" x2="513.00" y2="280.50" stroke="#6a6a6a" stroke-width="1.0"/>
<text x="345.40" y="176.00" font-size="10" text-anchor="start" font-weight="normal" fill="#000" stroke="#000" stroke-width="0.18" >J</text>
<rect x="380.40" y="227.00" width="13.51" height="33.60" fill="#5bccfa" stroke="#3a8fb8" stroke-width="0.7" />
<rect x="393.91" y="220.60" width="13.51" height="40.00" fill="#5bccfa" stroke="#3a8fb8" stroke-width="0.7" />
<rect x="407.42" y="219.00" width="13.51" height="41.60" fill="#5bccfa" stroke="#3a8fb8" stroke-width="0.7" />
<rect x="420.93" y="203.00" width="13.51" height="57.60" fill="#5bccfa" stroke="#3a8fb8" stroke-width="0.7" />
<rect x="434.44" y="222.40" width="13.51" height="38.20" fill="#5bccfa" stroke="#3a8fb8" stroke-width="0.7" />
<rect x="447.96" y="224.00" width="13.51" height="36.60" fill="#5bccfa" stroke="#3a8fb8" stroke-width="0.7" />
<rect x="461.47" y="218.60" width="13.51" height="42.00" fill="#5bccfa" stroke="#3a8fb8" stroke-width="0.7" />
<rect x="474.98" y="236.00" width="13.51" height="24.60" fill="#5bccfa" stroke="#3a8fb8" stroke-width="0.7" />
<rect x="488.49" y="243.60" width="13.51" height="17.00" fill="#5bccfa" stroke="#3a8fb8" stroke-width="0.7" />
<text x="373.00" y="178.79" font-size="7.75" text-anchor="end" font-weight="bold" fill="#000" stroke="#000" stroke-width="0.22" >0.25</text>
<text x="373.00" y="195.79" font-size="7.75" text-anchor="end" font-weight="bold" fill="#000" stroke="#000" stroke-width="0.22" >0.2</text>
<text x="373.00" y="212.79" font-size="7.75" text-anchor="end" font-weight="bold" fill="#000" stroke="#000" stroke-width="0.22" >0.15</text>
<text x="373.00" y="229.79" font-size="7.75" text-anchor="end" font-weight="bold" fill="#000" stroke="#000" stroke-width="0.22" >0.1</text>
<text x="373.00" y="246.79" font-size="7.75" text-anchor="end" font-weight="bold" fill="#000" stroke="#000" stroke-width="0.22" >0.05</text>
<text x="373.00" y="263.79" font-size="7.75" text-anchor="end" font-weight="bold" fill="#000" stroke="#000" stroke-width="0.22" >0</text>
<text x="380.40" y="271.49" font-size="7.8" text-anchor="middle" font-weight="bold" fill="#000" stroke="#000" stroke-width="0.22" >0</text>
<text x="393.91" y="271.49" font-size="7.8" text-anchor="middle" font-weight="bold" fill="#000" stroke="#000" stroke-width="0.22" >7</text>
<text x="407.42" y="271.49" font-size="7.8" text-anchor="middle" font-weight="bold" fill="#000" stroke="#000" stroke-width="0.22" >14</text>
<text x="420.93" y="271.49" font-size="7.8" text-anchor="middle" font-weight="bold" fill="#000" stroke="#000" stroke-width="0.22" >21</text>
<text x="434.44" y="271.49" font-size="7.8" text-anchor="middle" font-weight="bold" fill="#000" stroke="#000" stroke-width="0.22" >28</text>
<text x="447.96" y="271.49" font-size="7.8" text-anchor="middle" font-weight="bold" fill="#000" stroke="#000" stroke-width="0.22" >35</text>
<text x="461.47" y="271.49" font-size="7.8" text-anchor="middle" font-weight="bold" fill="#000" stroke="#000" stroke-width="0.22" >42</text>
<text x="474.98" y="271.49" font-size="7.8" text-anchor="middle" font-weight="bold" fill="#000" stroke="#000" stroke-width="0.22" >49</text>
<text x="488.49" y="271.49" font-size="7.8" text-anchor="middle" font-weight="bold" fill="#000" stroke="#000" stroke-width="0.22" >56</text>
<text x="502.00" y="271.49" font-size="7.8" text-anchor="middle" font-weight="bold" fill="#000" stroke="#000" stroke-width="0.22" >63</text>
<text x="444.10" y="278.23" font-size="7.87" text-anchor="middle" font-weight="bold" fill="#000" stroke="#000" stroke-width="0.22" >Distance from the cell ceter (µm)</text>
<text x="357.00" y="219.00" font-size="7.85" text-anchor="middle" font-weight="bold" fill="#000" stroke="#000" stroke-width="0.22" transform="rotate(-90 357.0 219.0)" dy="2.0">Density (count/µm2)</text>
<rect x="176.00" y="299.00" width="162.40" height="111.10" fill="#fff"/>
<line x1="175.50" y1="299.00" x2="338.90" y2="299.00" stroke="#4a4a4a" stroke-width="1.0"/>
<line x1="175.50" y1="410.10" x2="338.90" y2="410.10" stroke="#7a7a7a" stroke-width="1.0"/>
<line x1="176.00" y1="299.00" x2="176.00" y2="410.10" stroke="#9a9a9a" stroke-width="1.0"/>
<line x1="338.40" y1="299.00" x2="338.40" y2="410.10" stroke="#6a6a6a" stroke-width="1.0"/>
<text x="167.30" y="304.00" font-size="10" text-anchor="start" font-weight="normal" fill="#000" stroke="#000" stroke-width="0.18" >G</text>
<rect x="208.00" y="323.00" width="13.40" height="62.60" fill="#a9a9a9" stroke="#4d4d4d" stroke-width="0.7" />
<rect x="221.40" y="320.00" width="13.40" height="65.60" fill="#a9a9a9" stroke="#4d4d4d" stroke-width="0.7" />
<rect x="234.80" y="340.00" width="13.40" height="45.60" fill="#a9a9a9" stroke="#4d4d4d" stroke-width="0.7" />
<rect x="248.20" y="350.00" width="13.40" height="35.60" fill="#a9a9a9" stroke="#4d4d4d" stroke-width="0.7" />
<rect x="261.60" y="357.40" width="13.40" height="28.20" fill="#a9a9a9" stroke="#4d4d4d" stroke-width="0.7" />
<rect x="275.00" y="360.40" width="13.40" height="25.20" fill="#a9a9a9" stroke="#4d4d4d" stroke-width="0.7" />
<rect x="288.40" y="366.40" width="13.40" height="19.20" fill="#a9a9a9" stroke="#4d4d4d" stroke-width="0.7" />
<rect x="301.80" y="367.60" width="13.40" height="18.00" fill="#a9a9a9" stroke="#4d4d4d" stroke-width="0.7" />
<rect x="315.20" y="372.40" width="13.40" height="13.20" fill="#a9a9a9" stroke="#4d4d4d" stroke-width="0.7" />
<text x="201.40" y="308.19" font-size="7.75" text-anchor="end" font-weight="bold" fill="#000" stroke="#000" stroke-width="0.22" >0.25</text>
<text x="201.40" y="324.79" font-size="7.75" text-anchor="end" font-weight="bold" fill="#000" stroke="#000" stroke-width="0.22" >0.2</text>
<text x="201.40" y="341.19" font-size="7.75" text-anchor="end" font-weight="bold" fill="#000" stroke="#000" stroke-width="0.22" >0.15</text>
<text x="201.40" y="357.19" font-size="7.75" text-anchor="end" font-weight="bold" fill="#000" stroke="#000" stroke-width="0.22" >0.1</text>
<text x="201.40" y="373.39" font-size="7.75" text-anchor="end" font-weight="bold" fill="#000" stroke="#000" stroke-width="0.22" >0.05</text>
<text x="201.40" y="389.39" font-size="7.75" text-anchor="end" font-weight="bold" fill="#000" stroke="#000" stroke-width="0.22" >0</text>
<text x="208.00" y="396.59" font-size="7.8" text-anchor="middle" font-weight="bold" fill="#000" stroke="#000" stroke-width="0.22" >0</text>
<text x="221.40" y="396.59" font-size="7.8" text-anchor="middle" font-weight="bold" fill="#000" stroke="#000" stroke-width="0.22" >6</text>
<text x="234.80" y="396.59" font-size="7.8" text-anchor="middle" font-weight="bold" fill="#000" stroke="#000" stroke-width="0.22" >12</text>
<text x="248.20" y="396.59" font-size="7.8" text-anchor="middle" font-weight="bold" fill="#000" stroke="#000" stroke-width="0.22" >18</text>
<text x="261.60" y="396.59" font-size="7.8" text-anchor="middle" font-weight="bold" fill="#000" stroke="#000" stroke-width="0.22" >24</text>
<text x="275.00" y="396.59" font-size="7.8" text-anchor="middle" font-weight="bold" fill="#000" stroke="#000" stroke-width="0.22" >30</text>
<text x="288.40" y="396.59" font-size="7.8" text-anchor="middle" font-weight="bold" fill="#000" stroke="#000" stroke-width="0.22" >36</text>
<text x="301.80" y="396.59" font-size="7.8" text-anchor="middle" font-weight="bold" fill="#000" stroke="#000" stroke-width="0.22" >42</text>
<text x="315.20" y="396.59" font-size="7.8" text-anchor="middle" font-weight="bold" fill="#000" stroke="#000" stroke-width="0.22" >48</text>
<text x="328.60" y="396.59" font-size="7.8" text-anchor="middle" font-weight="bold" fill="#000" stroke="#000" stroke-width="0.22" >54</text>
<text x="269.90" y="408.13" font-size="7.87" text-anchor="middle" font-weight="bold" fill="#000" stroke="#000" stroke-width="0.22" >Distance from the cell ceter (µm)</text>
<text x="182.40" y="346.50" font-size="7.85" text-anchor="middle" font-weight="bold" fill="#000" stroke="#000" stroke-width="0.22" transform="rotate(-90 182.4 346.5)" dy="2.0">Density (count/µm2)</text>
<rect x="351.00" y="299.00" width="161.80" height="111.00" fill="#fff"/>
<line x1="350.50" y1="299.00" x2="513.30" y2="299.00" stroke="#4a4a4a" stroke-width="1.0"/>
<line x1="350.50" y1="410.00" x2="513.30" y2="410.00" stroke="#7a7a7a" stroke-width="1.0"/>
<line x1="351.00" y1="299.00" x2="351.00" y2="410.00" stroke="#9a9a9a" stroke-width="1.0"/>
<line x1="512.80" y1="299.00" x2="512.80" y2="410.00" stroke="#6a6a6a" stroke-width="1.0"/>
<text x="345.00" y="304.00" font-size="9.6" text-anchor="start" font-weight="normal" fill="#000" stroke="#000" stroke-width="0.18" >K</text>
<rect x="382.40" y="354.00" width="13.44" height="31.60" fill="#5bccfa" stroke="#3a8fb8" stroke-width="0.7" />
<rect x="395.84" y="335.40" width="13.44" height="50.20" fill="#5bccfa" stroke="#3a8fb8" stroke-width="0.7" />
<rect x="409.29" y="344.40" width="13.44" height="41.20" fill="#5bccfa" stroke="#3a8fb8" stroke-width="0.7" />
<rect x="422.73" y="344.40" width="13.44" height="41.20" fill="#5bccfa" stroke="#3a8fb8" stroke-width="0.7" />
<rect x="436.18" y="345.40" width="13.44" height="40.20" fill="#5bccfa" stroke="#3a8fb8" stroke-width="0.7" />
<rect x="449.62" y="353.40" width="13.44" height="32.20" fill="#5bccfa" stroke="#3a8fb8" stroke-width="0.7" />
<rect x="463.07" y="353.60" width="13.44" height="32.00" fill="#5bccfa" stroke="#3a8fb8" stroke-width="0.7" />
<rect x="476.51" y="362.60" width="13.44" height="23.00" fill="#5bccfa" stroke="#3a8fb8" stroke-width="0.7" />
<rect x="489.96" y="367.40" width="13.44" height="18.20" fill="#5bccfa" stroke="#3a8fb8" stroke-width="0.7" />
<text x="376.00" y="309.39" font-size="7.75" text-anchor="end" font-weight="bold" fill="#000" stroke="#000" stroke-width="0.22" >0.25</text>
<text x="376.00" y="325.39" font-size="7.75" text-anchor="end" font-weight="bold" fill="#000" stroke="#000" stroke-width="0.22" >0.2</text>
<text x="376.00" y="341.39" font-size="7.75" text-anchor="end" font-weight="bold" fill="#000" stroke="#000" stroke-width="0.22" >0.15</text>
<text x="376.00" y="357.39" font-size="7.75" text-anchor="end" font-weight="bold" fill="#000" stroke="#000" stroke-width="0.22" >0.1</text>
<text x="376.00" y="373.39" font-size="7.75" text-anchor="end" font-weight="bold" fill="#000" stroke="#000" stroke-width="0.22" >0.05</text>
<text x="376.00" y="388.79" font-size="7.75" text-anchor="end" font-weight="bold" fill="#000" stroke="#000" stroke-width="0.22" >0</text>
<text x="382.40" y="396.49" font-size="7.8" text-anchor="middle" font-weight="bold" fill="#000" stroke="#000" stroke-width="0.22" >0</text>
<text x="395.84" y="396.49" font-size="7.8" text-anchor="middle" font-weight="bold" fill="#000" stroke="#000" stroke-width="0.22" >7</text>
<text x="409.29" y="396.49" font-size="7.8" text-anchor="middle" font-weight="bold" fill="#000" stroke="#000" stroke-width="0.22" >14</text>
<text x="422.73" y="396.49" font-size="7.8" text-anchor="middle" font-weight="bold" fill="#000" stroke="#000" stroke-width="0.22" >21</text>
<text x="436.18" y="396.49" font-size="7.8" text-anchor="middle" font-weight="bold" fill="#000" stroke="#000" stroke-width="0.22" >28</text>
<text x="449.62" y="396.49" font-size="7.8" text-anchor="middle" font-weight="bold" fill="#000" stroke="#000" stroke-width="0.22" >35</text>
<text x="463.07" y="396.49" font-size="7.8" text-anchor="middle" font-weight="bold" fill="#000" stroke="#000" stroke-width="0.22" >42</text>
<text x="476.51" y="396.49" font-size="7.8" text-anchor="middle" font-weight="bold" fill="#000" stroke="#000" stroke-width="0.22" >49</text>
<text x="489.96" y="396.49" font-size="7.8" text-anchor="middle" font-weight="bold" fill="#000" stroke="#000" stroke-width="0.22" >56</text>
<text x="503.40" y="396.49" font-size="7.8" text-anchor="middle" font-weight="bold" fill="#000" stroke="#000" stroke-width="0.22" >63</text>
<text x="436.10" y="407.43" font-size="7.87" text-anchor="middle" font-weight="bold" fill="#000" stroke="#000" stroke-width="0.22" >Distance from the cell ceter (µm)</text>
<text x="357.00" y="346.50" font-size="7.85" text-anchor="middle" font-weight="bold" fill="#000" stroke="#000" stroke-width="0.22" transform="rotate(-90 357.0 346.5)" dy="2.0">Density (count/µm2)</text>
<rect x="176.00" y="429.80" width="162.30" height="112.20" fill="#fff"/>
<line x1="175.50" y1="429.80" x2="338.80" y2="429.80" stroke="#4a4a4a" stroke-width="1.0"/>
<line x1="175.50" y1="542.00" x2="338.80" y2="542.00" stroke="#7a7a7a" stroke-width="1.0"/>
<line x1="176.00" y1="429.80" x2="176.00" y2="542.00" stroke="#9a9a9a" stroke-width="1.0"/>
<line x1="338.30" y1="429.80" x2="338.30" y2="542.00" stroke="#6a6a6a" stroke-width="1.0"/>
<text x="167.40" y="438.60" font-size="10.7" text-anchor="start" font-weight="normal" fill="#000" stroke="#000" stroke-width="0.18" >H</text>
<rect x="208.60" y="451.40" width="13.33" height="64.60" fill="#a9a9a9" stroke="#4d4d4d" stroke-width="0.7" />
<rect x="221.93" y="453.00" width="13.33" height="63.00" fill="#a9a9a9" stroke="#4d4d4d" stroke-width="0.7" />
<rect x="235.27" y="469.60" width="13.33" height="46.40" fill="#a9a9a9" stroke="#4d4d4d" stroke-width="0.7" />
<rect x="248.60" y="480.40" width="13.33" height="35.60" fill="#a9a9a9" stroke="#4d4d4d" stroke-width="0.7" />
<rect x="261.93" y="488.00" width="13.33" height="28.00" fill="#a9a9a9" stroke="#4d4d4d" stroke-width="0.7" />
<rect x="275.27" y="491.40" width="13.33" height="24.60" fill="#a9a9a9" stroke="#4d4d4d" stroke-width="0.7" />
<rect x="288.60" y="497.60" width="13.33" height="18.40" fill="#a9a9a9" stroke="#4d4d4d" stroke-width="0.7" />
<rect x="301.93" y="499.40" width="13.33" height="16.60" fill="#a9a9a9" stroke="#4d4d4d" stroke-width="0.7" />
<rect x="315.27" y="505.40" width="13.33" height="10.60" fill="#a9a9a9" stroke="#4d4d4d" stroke-width="0.7" />
<text x="201.40" y="439.79" font-size="7.75" text-anchor="end" font-weight="bold" fill="#000" stroke="#000" stroke-width="0.22" >0.25</text>
<text x="201.40" y="456.19" font-size="7.75" text-anchor="end" font-weight="bold" fill="#000" stroke="#000" stroke-width="0.22" >0.2</text>
<text x="201.40" y="472.19" font-size="7.75" text-anchor="end" font-weight="bold" fill="#000" stroke="#000" stroke-width="0.22" >0.15</text>
<text x="201.40" y="488.19" font-size="7.75" text-anchor="end" font-weight="bold" fill="#000" stroke="#000" stroke-width="0.22" >0.1</text>
<text x="201.40" y="504.19" font-size="7.75" text-anchor="end" font-weight="bold" fill="#000" stroke="#000" stroke-width="0.22" >0.05</text>
<text x="201.40" y="519.79" font-size="7.75" text-anchor="end" font-weight="bold" fill="#000" stroke="#000" stroke-width="0.22" >0</text>
<text x="208.60" y="527.09" font-size="7.8" text-anchor="middle" font-weight="bold" fill="#000" stroke="#000" stroke-width="0.22" >0</text>
<text x="221.93" y="527.09" font-size="7.8" text-anchor="middle" font-weight="bold" fill="#000" stroke="#000" stroke-width="0.22" >6</text>
<text x="235.27" y="527.09" font-size="7.8" text-anchor="middle" font-weight="bold" fill="#000" stroke="#000" stroke-width="0.22" >12</text>
<text x="248.60" y="527.09" font-size="7.8" text-anchor="middle" font-weight="bold" fill="#000" stroke="#000" stroke-width="0.22" >18</text>
<text x="261.93" y="527.09" font-size="7.8" text-anchor="middle" font-weight="bold" fill="#000" stroke="#000" stroke-width="0.22" >24</text>
<text x="275.27" y="527.09" font-size="7.8" text-anchor="middle" font-weight="bold" fill="#000" stroke="#000" stroke-width="0.22" >30</text>
<text x="288.60" y="527.09" font-size="7.8" text-anchor="middle" font-weight="bold" fill="#000" stroke="#000" stroke-width="0.22" >36</text>
<text x="301.93" y="527.09" font-size="7.8" text-anchor="middle" font-weight="bold" fill="#000" stroke="#000" stroke-width="0.22" >42</text>
<text x="315.27" y="527.09" font-size="7.8" text-anchor="middle" font-weight="bold" fill="#000" stroke="#000" stroke-width="0.22" >48</text>
<text x="328.60" y="527.09" font-size="7.8" text-anchor="middle" font-weight="bold" fill="#000" stroke="#000" stroke-width="0.22" >54</text>
<text x="263.70" y="539.83" font-size="7.87" text-anchor="middle" font-weight="bold" fill="#000" stroke="#000" stroke-width="0.22" >Distance from the cell ceter (µm)</text>
<text x="182.00" y="477.30" font-size="7.85" text-anchor="middle" font-weight="bold" fill="#000" stroke="#000" stroke-width="0.22" transform="rotate(-90 182.0 477.3)" dy="2.0">Density (count/µm2)</text>
<rect x="350.70" y="429.80" width="162.00" height="112.20" fill="#fff"/>
<line x1="350.20" y1="429.80" x2="513.20" y2="429.80" stroke="#4a4a4a" stroke-width="1.0"/>
<line x1="350.20" y1="542.00" x2="513.20" y2="542.00" stroke="#7a7a7a" stroke-width="1.0"/>
<line x1="350.70" y1="429.80" x2="350.70" y2="542.00" stroke="#9a9a9a" stroke-width="1.0"/>
<line x1="512.70" y1="429.80" x2="512.70" y2="542.00" stroke="#6a6a6a" stroke-width="1.0"/>
<text x="344.90" y="436.80" font-size="9.6" text-anchor="start" font-weight="normal" fill="#000" stroke="#000" stroke-width="0.18" >L</text>
<rect x="382.40" y="472.40" width="13.44" height="43.20" fill="#5bccfa" stroke="#3a8fb8" stroke-width="0.7" />
<rect x="395.84" y="475.40" width="13.44" height="40.20" fill="#5bccfa" stroke="#3a8fb8" stroke-width="0.7" />
<rect x="409.29" y="478.40" width="13.44" height="37.20" fill="#5bccfa" stroke="#3a8fb8" stroke-width="0.7" />
<rect x="422.73" y="471.40" width="13.44" height="44.20" fill="#5bccfa" stroke="#3a8fb8" stroke-width="0.7" />
<rect x="436.18" y="476.60" width="13.44" height="39.00" fill="#5bccfa" stroke="#3a8fb8" stroke-width="0.7" />
<rect x="449.62" y="487.60" width="13.44" height="28.00" fill="#5bccfa" stroke="#3a8fb8" stroke-width="0.7" />
<rect x="463.07" y="481.60" width="13.44" height="34.00" fill="#5bccfa" stroke="#3a8fb8" stroke-width="0.7" />
<rect x="476.51" y="494.40" width="13.44" height="21.20" fill="#5bccfa" stroke="#3a8fb8" stroke-width="0.7" />
<rect x="489.96" y="498.00" width="13.44" height="17.60" fill="#5bccfa" stroke="#3a8fb8" stroke-width="0.7" />
<text x="376.00" y="439.79" font-size="7.75" text-anchor="end" font-weight="bold" fill="#000" stroke="#000" stroke-width="0.22" >0.25</text>
<text x="376.00" y="456.19" font-size="7.75" text-anchor="end" font-weight="bold" fill="#000" stroke="#000" stroke-width="0.22" >0.2</text>
<text x="376.00" y="472.19" font-size="7.75" text-anchor="end" font-weight="bold" fill="#000" stroke="#000" stroke-width="0.22" >0.15</text>
<text x="376.00" y="488.19" font-size="7.75" text-anchor="end" font-weight="bold" fill="#000" stroke="#000" stroke-width="0.22" >0.1</text>
<text x="376.00" y="504.19" font-size="7.75" text-anchor="end" font-weight="bold" fill="#000" stroke="#000" stroke-width="0.22" >0.05</text>
<text x="376.00" y="519.39" font-size="7.75" text-anchor="end" font-weight="bold" fill="#000" stroke="#000" stroke-width="0.22" >0</text>
<text x="382.40" y="526.79" font-size="7.8" text-anchor="middle" font-weight="bold" fill="#000" stroke="#000" stroke-width="0.22" >0</text>
<text x="395.84" y="526.79" font-size="7.8" text-anchor="middle" font-weight="bold" fill="#000" stroke="#000" stroke-width="0.22" >7</text>
<text x="409.29" y="526.79" font-size="7.8" text-anchor="middle" font-weight="bold" fill="#000" stroke="#000" stroke-width="0.22" >14</text>
<text x="422.73" y="526.79" font-size="7.8" text-anchor="middle" font-weight="bold" fill="#000" stroke="#000" stroke-width="0.22" >21</text>
<text x="436.18" y="526.79" font-size="7.8" text-anchor="middle" font-weight="bold" fill="#000" stroke="#000" stroke-width="0.22" >28</text>
<text x="449.62" y="526.79" font-size="7.8" text-anchor="middle" font-weight="bold" fill="#000" stroke="#000" stroke-width="0.22" >35</text>
<text x="463.07" y="526.79" font-size="7.8" text-anchor="middle" font-weight="bold" fill="#000" stroke="#000" stroke-width="0.22" >42</text>
<text x="476.51" y="526.79" font-size="7.8" text-anchor="middle" font-weight="bold" fill="#000" stroke="#000" stroke-width="0.22" >49</text>
<text x="489.96" y="526.79" font-size="7.8" text-anchor="middle" font-weight="bold" fill="#000" stroke="#000" stroke-width="0.22" >56</text>
<text x="503.40" y="526.79" font-size="7.8" text-anchor="middle" font-weight="bold" fill="#000" stroke="#000" stroke-width="0.22" >63</text>
<text x="436.10" y="536.23" font-size="7.87" text-anchor="middle" font-weight="bold" fill="#000" stroke="#000" stroke-width="0.22" >Distance from the cell ceter (µm)</text>
<text x="357.00" y="477.30" font-size="7.85" text-anchor="middle" font-weight="bold" fill="#000" stroke="#000" stroke-width="0.22" transform="rotate(-90 357.0 477.3)" dy="2.0">Density (count/µm2)</text>
<text x="341.40" y="33.00" font-size="9.95" text-anchor="middle" font-weight="bold" fill="#000" stroke="#000" stroke-width="0.22" >Palmitoleic Acid</text>
<text x="332.30" y="164.30" font-size="9.95" text-anchor="middle" font-weight="bold" fill="#000" stroke="#000" stroke-width="0.22" >Palmitic Acid</text>
<text x="336.30" y="293.10" font-size="9.95" text-anchor="middle" font-weight="bold" fill="#000" stroke="#000" stroke-width="0.22" >Oleic Acid</text>
<text x="332.90" y="426.60" font-size="9.95" text-anchor="middle" font-weight="bold" fill="#000" stroke="#000" stroke-width="0.22" >Stearic Acid</text>
</svg></body></html>
